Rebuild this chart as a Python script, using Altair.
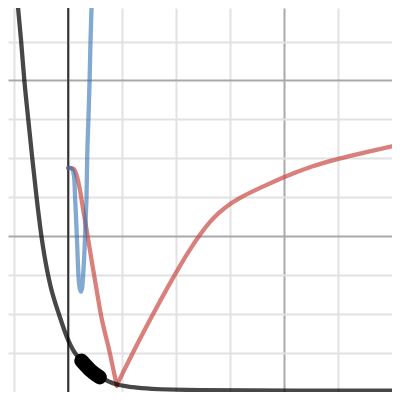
import altair as alt
import pandas as pd

# Values (data units: x minor step 0.5, y minor step 0.5)
black_x = [-0.4636, -0.4369, -0.4059, -0.3703, -0.3321, -0.2931, -0.2487, -0.1847, -0.1625,
           -0.0853, 0.0, 0.0515, 0.1270, 0.1980, 0.2869, 0.3757, 0.4467, 0.5977, 0.7753,
           1.2194, 2.1075, 2.9956]
black_y = [4.932, 4.528, 4.006, 3.512, 2.998, 2.504, 2.010, 1.488, 1.352,
           0.994, 0.660, 0.519, 0.389, 0.284, 0.191, 0.130, 0.093, 0.056, 0.035,
           0.019, 0.012, 0.011]

blob_x = [0.123, 0.198, 0.291]
blob_y = [0.395, 0.284, 0.185]

blue_x = [0.0, 0.016, 0.0355, 0.0497, 0.0577, 0.0648, 0.0719, 0.0844, 0.0941, 0.1039,
          0.1181, 0.1306, 0.1394, 0.1519, 0.1625, 0.1696, 0.1758, 0.1874, 0.1980, 0.2069, 0.2158]
blue_y = [2.874, 2.875, 2.864, 2.809, 2.710, 2.463, 2.257, 1.846, 1.516, 1.352,
          1.284, 1.352, 1.516, 1.846, 2.257, 2.504, 2.998, 3.512, 4.006, 4.528, 4.932]

# red curve: falling branch down to the cusp, then rising branch
red_left_x = [0.0, 0.0249, 0.0497, 0.0799, 0.1092, 0.1385, 0.1687, 0.1980, 0.2274,
              0.2575, 0.3020, 0.3845, 0.4494]
red_left_y = [2.874, 2.874, 2.864, 2.772, 2.586, 2.340, 2.093, 1.846, 1.599,
              1.352, 0.994, 0.500, 0.077]
red_right_x = [0.4494, 0.5089, 0.6270, 0.7460, 0.8641, 0.9822, 1.1012, 1.2194, 1.3082,
               1.3970, 1.4858, 1.5746, 1.8117, 1.9893, 2.2558, 2.5071, 2.7584, 2.9956]
red_right_y = [0.077, 0.249, 0.577, 0.894, 1.198, 1.490, 1.770, 2.017, 2.175,
               2.301, 2.400, 2.477, 2.642, 2.753, 2.894, 2.995, 3.079, 3.152]

x_ticks = [-0.5, 0.0, 0.5, 1.0, 1.5, 2.0, 2.5, 3.0]
y_ticks = [0.5, 1.0, 1.5, 2.0, 2.5, 3.0, 3.5, 4.0, 4.5]
y_axis_at = [0.0]


def frame(xs, ys, branch="a"):
    return pd.DataFrame({"x": xs, "y": ys, "i": list(range(len(xs))),
                         "b": [branch] * len(xs)})


xscale = alt.Scale(domain=[-0.5568, 2.9956], nice=False, zero=False)
yscale = alt.Scale(domain=[-0.0062, 4.9321], nice=False, zero=False)

grid_color = {"condition": {"test": "datum.value % 2 === 0", "value": "#a9a9a9"},
              "value": "#e2e2e2"}

xaxis = alt.Axis(values=x_ticks, grid=True, gridColor=grid_color, gridWidth=2,
                 labels=False, ticks=False, domain=False, title="")
yaxis = alt.Axis(values=y_ticks, grid=True, gridColor=grid_color, gridWidth=2,
                 labels=False, ticks=False, domain=False, title="")

X = alt.X("x:Q", scale=xscale, axis=xaxis)
Y = alt.Y("y:Q", scale=yscale, axis=yaxis)

line_style = dict(interpolate="monotone", strokeWidth=4.3, strokeCap="round",
                  strokeJoin="round", clip=True)

axis_rule = alt.Chart(pd.DataFrame({"x": y_axis_at})).mark_rule(
    color="#333333", strokeWidth=2
).encode(x=X)

red_df = pd.concat([frame(red_left_x, red_left_y, "L"),
                    frame(red_right_x, red_right_y, "R")], ignore_index=True)
red = alt.Chart(red_df).mark_line(
    color="#c74440", opacity=0.68, **line_style
).encode(x=X, y=Y, detail="b:N", order="i:Q")

blue = alt.Chart(frame(blue_x, blue_y)).mark_line(
    color="#2d70b3", opacity=0.6, **line_style
).encode(x=X, y=Y, order="i:Q")

black = alt.Chart(frame(black_x, black_y)).mark_line(
    color="#000000", opacity=0.72, **line_style
).encode(x=X, y=Y, order="i:Q")

blob = alt.Chart(frame(blob_x, blob_y)).mark_line(
    interpolate="monotone", color="#000000", strokeWidth=14.5,
    strokeCap="round", strokeJoin="round", clip=True
).encode(x=X, y=Y, order="i:Q")

chart = alt.layer(axis_rule, red, blue, black, blob).properties(
    width=384, height=384, padding=0, autosize="none", background="#ffffff"
).configure_view(strokeWidth=0)

chart.save("out.html", embed_options={"renderer": "svg", "actions": False})
